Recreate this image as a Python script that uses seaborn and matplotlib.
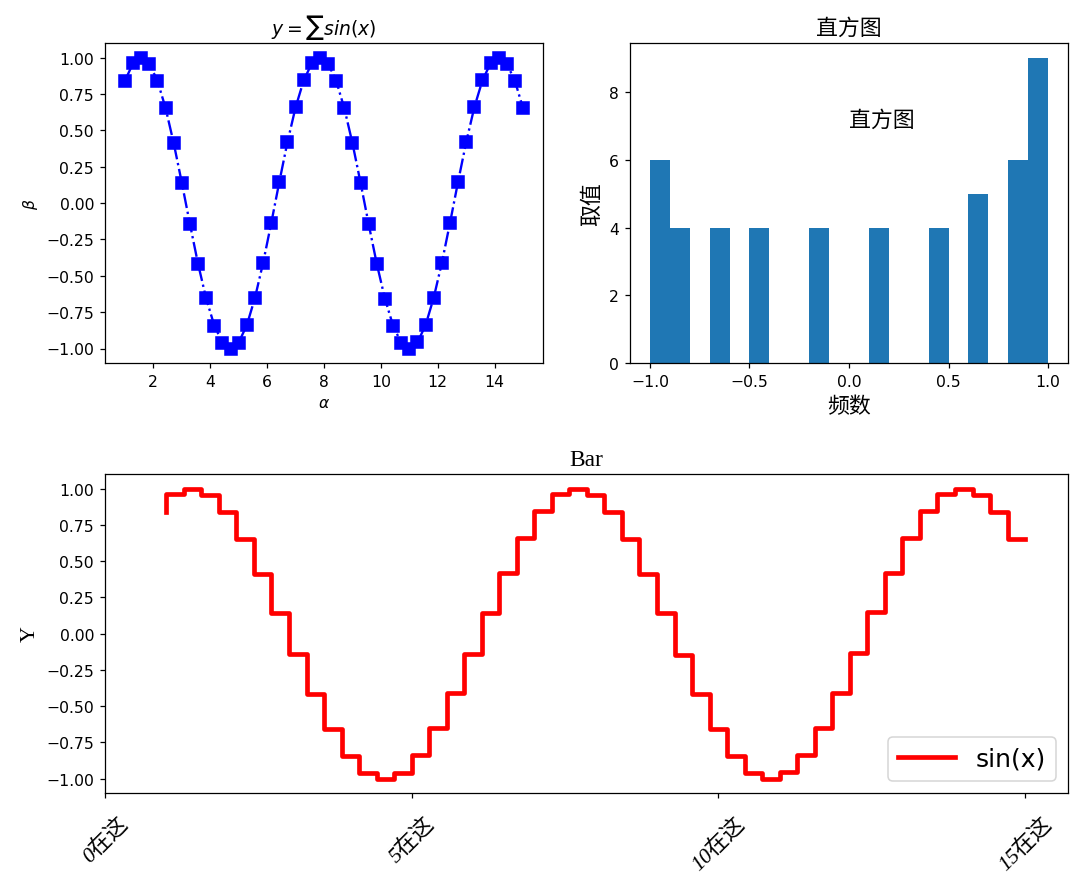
import matplotlib
matplotlib.use('Agg')
from matplotlib import pyplot as plt
import seaborn as sns

plt.rcParams['font.family'] = ['DejaVu Sans', 'Noto Sans CJK SC']
cjk = ['Noto Sans CJK SC', 'DejaVu Sans']
serif = ['Liberation Serif', 'Noto Sans CJK SC']

# 数据
x = [1.0, 1.286, 1.571, 1.857, 2.143, 2.429, 2.714, 3.0, 3.286, 3.571,
     3.857, 4.143, 4.429, 4.714, 5.0, 5.286, 5.571, 5.857, 6.143, 6.429,
     6.714, 7.0, 7.286, 7.571, 7.857, 8.143, 8.429, 8.714, 9.0, 9.286,
     9.571, 9.857, 10.143, 10.429, 10.714, 11.0, 11.286, 11.571, 11.857, 12.143,
     12.429, 12.714, 13.0, 13.286, 13.571, 13.857, 14.143, 14.429, 14.714, 15.0]
y = [0.841, 0.960, 1.000, 0.959, 0.841, 0.654, 0.414, 0.141, -0.144, -0.417,
     -0.656, -0.842, -0.960, -1.000, -0.959, -0.840, -0.653, -0.413, -0.140, 0.145,
     0.418, 0.657, 0.843, 0.960, 1.000, 0.959, 0.839, 0.652, 0.412, 0.139,
     -0.146, -0.419, -0.658, -0.843, -0.961, -1.000, -0.958, -0.839, -0.651, -0.411,
     -0.137, 0.147, 0.420, 0.659, 0.844, 0.961, 1.000, 0.958, 0.838, 0.650]
hist_ticks = [-1.0, -0.5, 0.0, 0.5, 1.0]
tick_pos = [0, 5, 10, 15]
tick_labels = ['0在这', '5在这', '10在这', '15在这']

fig = plt.figure(figsize=(9.6, 7.884), dpi=112.5)
ax1 = fig.add_axes([0.0972, 0.5896, 0.4056, 0.3608])
ax2 = fig.add_axes([0.5833, 0.5896, 0.4056, 0.3608])
ax3 = fig.add_axes([0.0972, 0.1048, 0.8917, 0.3596])

# 左上：折线
sns.lineplot(x=x, y=y, ax=ax1, color='blue', linestyle='-.', marker='s',
             markersize=8, markeredgecolor='blue', markeredgewidth=1)
ax1.set_title(r'$y=\sum sin(x)$', fontsize=12)
ax1.set_xlabel(r'$\alpha$')
ax1.set_ylabel(r'$\beta$')

# 右上：直方图
sns.histplot(x=y, bins=20, ax=ax2, color='#1f77b4', alpha=1, linewidth=0)
ax2.set_xticks(hist_ticks)
ax2.set_title('直方图', fontsize=14, family=cjk)
ax2.text(0, 7, '直方图', fontsize=14, family=cjk)
ax2.set_xlabel('频数', fontsize=14, family=cjk)
ax2.set_ylabel('取值', fontsize=14, family=cjk)

# 下方：阶梯图
sns.lineplot(x=x, y=y, ax=ax3, color='red', linewidth=3,
             drawstyle='steps-pre', label='sin(x)')
ax3.set_xticks(tick_pos)
ax3.set_xticklabels(tick_labels, rotation=45, fontsize=14,
                    family=serif, style='italic')
ax3.tick_params(axis='x', pad=9)
ax3.set_title('Bar', fontsize=15, family=serif)
ax3.set_ylabel('Y', fontsize=14, family=serif)
ax3.legend(loc='lower right', fontsize=16, handlelength=2.3)

fig.savefig('out.png', dpi=112.5)
